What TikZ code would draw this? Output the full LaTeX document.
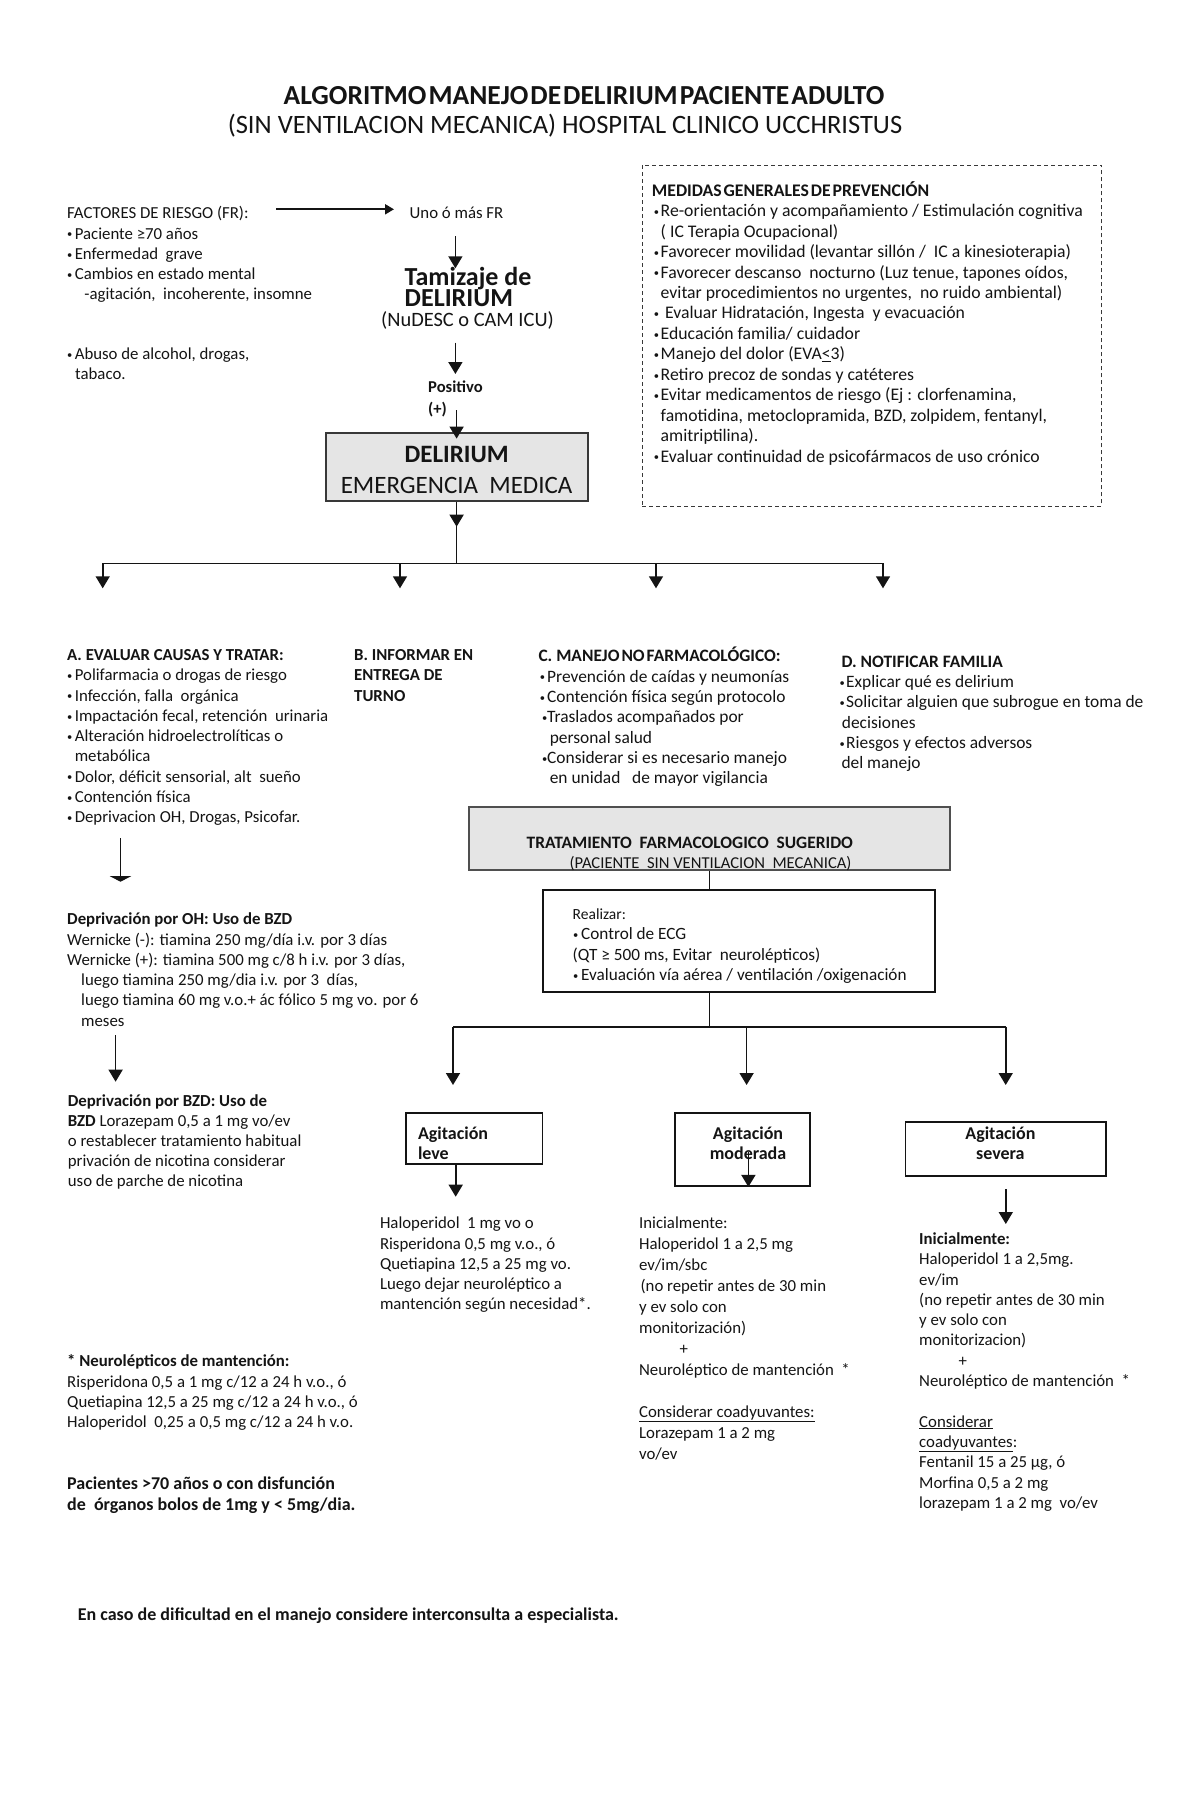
\documentclass[tikz,border=0pt]{standalone}
\usepackage{fontspec}
\setmainfont{Carlito}
\usetikzlibrary{arrows.meta}
\definecolor{ink}{gray}{0.08}
\newcommand{\bl}[2]{\makebox[#2][l]{\hspace{#1}\raisebox{1.3pt}{\fontsize{10.5}{10}\selectfont •}}}
\newcommand{\fb}{\fontsize{16.8}{20.3}\selectfont}
\newcommand{\fd}{\fontsize{17.7}{20.45}\selectfont}
\newcommand{\fc}{\fontsize{17.4}{20.3}\selectfont}
\tikzset{
  every node/.style={inner sep=0pt, text=ink},
  blk/.style={anchor=north west, align=left, inner sep=0pt},
  arr/.style={draw=ink, line width=1.6pt, -{Triangle[width=14pt,length=12pt]}},
  arrS/.style={draw=ink, line width=2pt, -{Triangle[width=10pt,length=9pt]}},
  arrthin/.style={draw=ink, line width=1pt, -{Triangle[width=21pt,length=5.5pt]}},
  ln/.style={draw=ink, line width=1.6pt},
  bx/.style={draw=ink, line width=1.8pt, inner sep=0pt, rectangle},
  graybx/.style={draw=ink!85, line width=2.2pt, fill=gray!20, inner sep=0pt, rectangle},
  dashbx/.style={draw=ink!85, line width=1pt, dash pattern=on 4pt off 3pt, inner sep=0pt, rectangle},
}
\begin{document}
\begin{tikzpicture}[x=1pt,y=-1pt]
\fill[white] (0,0) rectangle (1200,1800);
\useasboundingbox (0,0) rectangle (1200,1800);

% title
\node[anchor=base, font=\fontsize{27.5}{30}\selectfont\bfseries] (t1) at (584,104.9)
  {ALGORITMO\hspace{2pt}MANEJO\hspace{2pt}DE\hspace{2pt}DELIRIUM\hspace{2pt}PACIENTE\hspace{2pt}ADULTO};
\node[anchor=base, font=\fontsize{26.5}{30}\selectfont] (t2) at (565,133.5)
  {(SIN VENTILACION MECANICA) HOSPITAL CLINICO UCCHRISTUS};

% risk factors
\node[blk, font=\fb] (fact) at (67,204.3) {\strut FACTORES DE RIESGO (FR):\\
\bl{0pt}{7.6pt}Paciente ≥70 años\\
\bl{0pt}{7.6pt}Enfermedad\ \ grave\\
\bl{0pt}{7.6pt}Cambios en estado mental\\
\hspace{17.2pt}-agitación,\ \ incoherente, insomne};
\node[blk, font=\fb] (abuso) at (67,345) {\strut\bl{0pt}{7.6pt}Abuso de alcohol, drogas,\\
\hspace{8pt}tabaco.};

\node[anchor=west, font=\fb] (uno) at (409.5,213.3) {Uno ó más FR};
\coordinate (fa1) at (276,209.3);
\draw[arrS, shorten >=15.5pt] (fa1) -- (fa1 -| uno.west);

% screening
\node[anchor=base west, font=\fontsize{26}{30}\selectfont\bfseries] (tam1) at (404.5,285.2) {Tamizaje de};
\node[anchor=base west, font=\fontsize{26}{30}\selectfont\bfseries] (tam2) at (404.5,306.7) {DELIRIUM};
\node[anchor=base, font=\fontsize{20.4}{24}\selectfont] (nudesc) at (467.5,326.5) {(NuDESC o CAM ICU)};
\coordinate (a1s) at (455.4,236);
\coordinate (a1e) at (455.4,268.3);
\draw[arr] (a1s) -- (a1e);
\coordinate (a2s) at (455.4,342.7);
\coordinate (a2e) at (455.4,374);
\draw[arr] (a2s) -- (a2e);

\node[anchor=base west, font=\fontsize{16.6}{20}\selectfont\bfseries] (pos) at (428,392.6) {Positivo};
\node[anchor=base west, font=\fontsize{16.6}{20}\selectfont\bfseries] (plus) at (428,414.3) {(+)};

% delirium box
\node[graybx, minimum width=262pt, minimum height=68pt] (delir) at (456.6,466.7) {};
\node[align=center, font=\fontsize{25}{31}\selectfont] (delirt) at (456.6,469.5)
  {\textbf{DELIRIUM}\\EMERGENCIA\ \ MEDICA};
\coordinate (a3s) at (456.6,410);
\draw[arr] (a3s) -- ([yshift=-7pt]delir.north);

\coordinate (hub) at (456.6,563.3);
\coordinate (d4) at (456.6,526.7);
\draw[ln] (delir.south) -- (hub);
\draw[arr] (delir.south) -- (d4);
\coordinate (hA) at (102.7,563.3);
\coordinate (hB) at (400,563.3);
\coordinate (hC) at (656,563.3);
\coordinate (hD) at (883,563.3);
\draw[ln] (hA) -- (hD);
\coordinate (tA) at (102.7,588.3);
\coordinate (tB) at (400,588.3);
\coordinate (tC) at (656,588.3);
\coordinate (tD) at (883,588.3);
\draw[arr] (hA) -- (tA);
\draw[arr] (hB) -- (tB);
\draw[arr] (hC) -- (tC);
\draw[arr] (hD) -- (tD);

% prevention dashed box
\node[dashbx, minimum width=459.3pt, minimum height=341pt] (prev) at (871.65,335.5) {};
\node[blk, font=\fd] (prevt) at (651.7,181.2) {\strut\textbf{MEDIDAS\hspace{2pt}GENERALES\hspace{2pt}DE\hspace{2pt}PREVENCIÓN}\\
\bl{1.9pt}{8.8pt}Re-orientación y acompañamiento / Estimulación cognitiva\\
\hspace{8.8pt}( IC Terapia Ocupacional)\\
\bl{1.9pt}{8.8pt}Favorecer movilidad (levantar sillón /\ \ IC a kinesioterapia)\\
\bl{1.9pt}{8.8pt}Favorecer descanso\ \ nocturno (Luz tenue, tapones oídos,\\
\hspace{8.8pt}evitar procedimientos no urgentes,\ \ no ruido ambiental)\\
\bl{1.9pt}{13.3pt}Evaluar Hidratación, Ingesta\ \ y evacuación\\
\bl{1.9pt}{8.8pt}Educación familia/ cuidador\\
\bl{1.9pt}{8.8pt}Manejo del dolor (EVA\underline{<}3)\\
\bl{1.9pt}{8.8pt}Retiro precoz de sondas y catéteres\\
\bl{1.9pt}{8.8pt}Evitar medicamentos de riesgo (Ej : clorfenamina,\\
\hspace{8.8pt}famotidina, metoclopramida, BZD, zolpidem, fentanyl,\\
\hspace{8.8pt}amitriptilina).\\
\bl{1.9pt}{8.8pt}Evaluar continuidad de psicofármacos de uso crónico};

% section A
\node[blk, font=\fb] (secA) at (67,646) {\strut\textbf{A. EVALUAR CAUSAS Y TRATAR:}\\
\bl{0pt}{7.6pt}Polifarmacia o drogas de riesgo\\
\bl{0pt}{7.6pt}Infección, falla\ \ orgánica\\
\bl{0pt}{7.6pt}Impactación fecal, retención\ \ urinaria\\
\bl{0pt}{7.6pt}Alteración hidroelectrolíticas o\\
\hspace{7.6pt}metabólica\\
\bl{0pt}{7.6pt}Dolor, déficit sensorial, alt\ \ sueño\\
\bl{0pt}{7.6pt}Contención física\\
\bl{0pt}{7.6pt}Deprivacion OH, Drogas, Psicofar.};

% section B
\node[blk, font=\fb\bfseries] (secB) at (354,646) {\strut B. INFORMAR EN\\ENTREGA DE\\TURNO};

% section C
\node[blk, font=\fc] (secC) at (538.3,647) {\strut\textbf{C. MANEJO\hspace{2pt}NO\hspace{2pt}FARMACOLÓGICO:}\\
\bl{1.3pt}{8.7pt}Prevención de caídas y neumonías\\
\bl{1.3pt}{8.7pt}Contención física según protocolo\\
\bl{3.5pt}{8.7pt}Traslados acompañados por\\
\hspace{11.3pt}personal salud\\
\bl{3.5pt}{8.7pt}Considerar si es necesario manejo\\
\hspace{11.3pt}en unidad\ \ \ de mayor vigilancia};

% section D
\node[blk, font=\fc] (secD) at (841.3,652.7) {\strut\textbf{D. NOTIFICAR FAMILIA}\\
\bl{-1.8pt}{4.7pt}Explicar qué es delirium\\
\bl{-1.8pt}{4.7pt}Solicitar alguien que subrogue en toma de\\
\hspace{0.4pt}decisiones\\
\bl{-1.8pt}{4.7pt}Riesgos y efectos adversos\\
del manejo};

% A branch
\coordinate (aAs) at (120.5,838);
\coordinate (aAe) at (120.5,881.7);
\draw[arrthin] (aAs) -- (aAe);

\node[blk, font=\fb] (oh) at (67,910.3) {\strut\textbf{Deprivación por OH: Uso de BZD}\\
Wernicke (-): tiamina 250 mg/día i.v. por 3 días\\
Wernicke (+): tiamina 500 mg c/8 h i.v. por 3 días,\\
\hspace{14pt}luego tiamina 250 mg/dia i.v. por 3\ \ días,\\
\hspace{14pt}luego tiamina 60 mg v.o.+ ác fólico 5 mg vo. por 6\\
\hspace{14pt}meses};
\coordinate (aBs) at (115.6,1035);
\coordinate (aBe) at (115.6,1081.7);
\draw[arr] (aBs) -- (aBe);

\node[blk, font=\fontsize{16.8}{20}\selectfont] (bzd) at (67.7,1092.7) {\strut\textbf{Deprivación por BZD: Uso de}\\
\textbf{BZD} Lorazepam 0,5 a 1 mg vo/ev\\
o restablecer tratamiento habitual\\
privación de nicotina considerar\\
uso de parche de nicotina};

\node[blk, font=\fb] (neuro) at (67,1352.4) {\strut\textbf{* Neurolépticos de mantención:}\\
Risperidona 0,5 a 1 mg c/12 a 24 h v.o., ó\\
Quetiapina 12,5 a 25 mg c/12 a 24 h v.o., ó\\
Haloperidol\ \ 0,25 a 0,5 mg c/12 a 24 h v.o.};

\node[blk, font=\fontsize{18}{21}\selectfont\bfseries] (pac) at (67,1475) {\strut Pacientes >70 años o con disfunción\\
de\ \ órganos bolos de 1mg y < 5mg/dia.};

\node[anchor=base west, font=\fontsize{18}{21}\selectfont\bfseries] (encaso) at (77.7,1620.5)
  {En caso de dificultad en el manejo considere interconsulta a especialista.};

% pharmacological treatment
\node[graybx, draw=ink!75, line width=2pt, minimum width=481pt, minimum height=63.3pt] (trat) at (709.5,838.35) {};
\node[anchor=base west, font=\fontsize{17.4}{20}\selectfont\bfseries] (tratt) at (526.5,848.7)
  {TRATAMIENTO\ \ FARMACOLOGICO\ \ SUGERIDO};
\node[anchor=base west, font=\fontsize{16.6}{20}\selectfont] (trats) at (569.4,868.6)
  {(PACIENTE\ \ SIN VENTILACION\ \ MECANICA)};

\node[bx, minimum width=392.3pt, minimum height=101.7pt] (real) at (738.75,940.85) {};
\node[blk, font=\fontsize{17.2}{20.3}\selectfont] (realt) at (572.5,905) {\strut{\fontsize{15.5}{20.3}\selectfont Realizar:}\\
\bl{0.5pt}{8.5pt}Control de ECG\\
(QT ≥ 500 ms, Evitar\ \ neurolépticos)\\
\bl{0.5pt}{8.5pt}Evaluación vía aérea / ventilación /oxigenación};
\draw[ln] (trat.south) -- (trat.south |- real.north);

\coordinate (rj) at (709.5,1026.7);
\draw[ln] (trat.south |- real.south) -- (rj);
\coordinate (rL) at (453,1026.7);
\coordinate (rM) at (746.6,1026.7);
\coordinate (rR) at (1005.7,1026.7);
\draw[ln] (rL) -- (rR);
\coordinate (rLt) at (453,1085);
\coordinate (rMt) at (746.6,1085);
\coordinate (rRt) at (1005.7,1085);
\draw[arr] (rL) -- (rLt);
\draw[arr] (rM) -- (rMt);
\draw[arr] (rR) -- (rRt);

% agitation boxes
\node[bx, minimum width=136.6pt, minimum height=50.7pt] (leve) at (474.1,1138.65) {};
\node[blk, font=\fontsize{18}{20}\selectfont\bfseries] (levet) at (417.8,1125) {\strut Agitación\\leve};
\node[bx, minimum width=134.4pt, minimum height=72.7pt] (mod) at (742.4,1149.65) {};
\node[anchor=north, align=center, font=\fontsize{18}{20}\selectfont\bfseries] (modt) at (748,1125) {\strut Agitación\\moderada};
\node[bx, minimum width=200.5pt, minimum height=54.3pt] (sev) at (1005.75,1148.85) {};
\node[anchor=north, align=center, font=\fontsize{18}{20}\selectfont\bfseries] (sevt) at (1000.4,1125) {\strut Agitación\\severa};

\coordinate (lv1) at (455.7,1164);
\coordinate (lv2) at (455.7,1196.7);
\draw[arr] (lv1) -- (lv2);
\coordinate (md1) at (748.4,1152);
\draw[arr] (md1) -- (md1 |- mod.south);
\coordinate (sv1) at (1005.8,1189.3);
\coordinate (sv2) at (1005.8,1224);
\draw[arr] (sv1) -- (sv2);

\node[blk, font=\fb] (levetx) at (379.8,1214.3) {\strut Haloperidol\ \ 1 mg vo o\\
Risperidona 0,5 mg v.o., ó\\
Quetiapina 12,5 a 25 mg vo.\\
Luego dejar neuroléptico a\\
mantención según necesidad*.};

\node[blk, font=\fontsize{16.8}{21}\selectfont] (modtx) at (638.9,1213.2) {\strut Inicialmente:\\
Haloperidol 1 a 2,5 mg\\
ev/im/sbc\\
\hspace{1.5pt}(no repetir antes de 30 min\\
y ev solo con\\
monitorización)\\
\hspace{40.6pt}+\\
Neuroléptico de mantención\ \ *\\
\strut\\
\underline{Considerar coadyuvantes:}\\
Lorazepam 1 a 2 mg\\
vo/ev};

\node[blk, font=\fb] (sevtx) at (919,1230) {\strut\textbf{Inicialmente:}\\
Haloperidol 1 a 2,5mg.\\
ev/im\\
(no repetir antes de 30 min\\
y ev solo con\\
monitorizacion)\\
\hspace{39.5pt}+\\
Neuroléptico de mantención\ \ *\\
\strut\\
\underline{Considerar}\\
\underline{coadyuvantes}:\\
Fentanil 15 a 25 µg, ó\\
Morfina 0,5 a 2 mg\\
lorazepam 1 a 2 mg\ \ vo/ev};
\end{tikzpicture}
\end{document}
